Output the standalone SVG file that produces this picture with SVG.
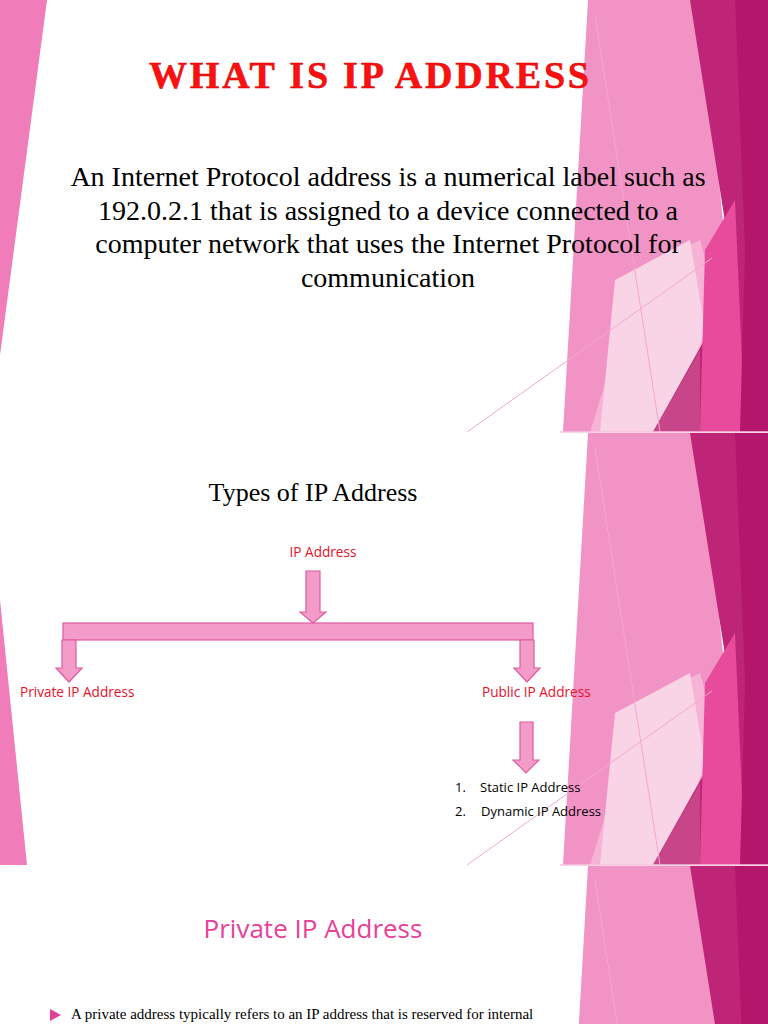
<svg xmlns="http://www.w3.org/2000/svg" width="768" height="1024" viewBox="0 0 768 1024">
<style>
.serif{font-family:"Liberation Serif",serif;fill:#000}
.sans{font-family:"Open Sans","Liberation Sans",sans-serif}
.red{fill:#e8102a;font-size:13.6px}
.arr{fill:#f39bc9;stroke:#de5c9f;stroke-width:1.2}
</style>
<defs>
<g id="deco">
<polygon points="588,0 700,0 745,432 563,432" fill="#f293c6"/>
<polygon points="640,270 700,240 725,330 700,432 590,432" fill="#f6b3d6"/>
<polygon points="615,280 690,240 705,330 670,432 600,432" fill="#f9d3e6"/>
<polygon points="690,0 768,0 768,432 653,432 735,285" fill="#bf2577"/>
<polygon points="705,250 735,200 745,432 700,432" fill="#e84a9c"/>
<polygon points="735,0 768,0 768,432 740,432 745,250" fill="#b4166c"/>
<polygon points="653,432 700,350 700,432" fill="#c9458a"/>
<line x1="595" y1="15" x2="660" y2="432" stroke="#f4a7cc" stroke-width="1"/>
<line x1="467" y1="432" x2="712" y2="258" stroke="#f4a7cc" stroke-width="1"/>
<line x1="560" y1="432" x2="768" y2="432" stroke="#f6c5de" stroke-width="1.5"/>
</g>
</defs>
<rect width="768" height="1024" fill="#fff"/>
<g id="slide1">
<polygon points="0,0 47,0 0,355" fill="#f07cba"/>
<use href="#deco"/>
<text x="369" y="88" text-anchor="middle" font-family="Liberation Serif,serif" font-weight="bold" font-size="38" fill="#ff1010" stroke="#c00" stroke-width="0.5" textLength="440">WHAT IS IP ADDRESS</text>
<g class="serif" font-size="28" text-anchor="middle">
<text x="388" y="186">An Internet Protocol address is a numerical label such as</text>
<text x="388" y="220">192.0.2.1 that is assigned to a device connected to a</text>
<text x="388" y="253">computer network that uses the Internet Protocol for</text>
<text x="388" y="287">communication</text>
</g>
</g>
<g id="slide2">
<polygon points="0,600 27,865 0,865" fill="#f07cba"/>
<use href="#deco" y="433"/>
<text class="serif" x="313" y="501" font-size="26" text-anchor="middle">Types of IP Address</text>
<g id="n-ip"><text class="sans red" x="323" y="557" text-anchor="middle">IP Address</text></g>
<g id="connectors">
<polygon class="arr" points="306,571 320,571 320,612 326,612 313,623 300,612 306,612"/>
<rect class="arr" x="63" y="623" width="470" height="17"/>
<polygon class="arr" points="62,640 76,640 76,668 82,668 69,682 56,668 62,668"/>
<polygon class="arr" points="520,640 534,640 534,668 540,668 527,682 514,668 520,668"/>
<polygon class="arr" points="520,722 533,722 533,760 539,760 526,773 513,760 520,760"/>
</g>
<g id="n-private"><text class="sans red" x="20" y="697">Private IP Address</text></g>
<g id="n-public"><text class="sans red" x="482" y="697">Public IP Address</text></g>
<g id="n-list" class="sans" font-size="13" fill="#000">
<text x="455" y="792">1.<tspan x="480">Static IP Address</tspan></text>
<text x="455" y="816">2.<tspan x="481">Dynamic IP Address</tspan></text>
</g>
</g>
<g id="slide3">
<use href="#deco" y="866"/>
<text x="313" y="938" text-anchor="middle" font-family="Open Sans,Liberation Sans,sans-serif" font-size="26" fill="#e8419b">Private IP Address</text>
<polygon points="50,1009 61,1015 50,1021" fill="#e0409a"/>
<text class="serif" x="71" y="1019" font-size="15">A private address typically refers to an IP address that is reserved for internal</text>
</g>
</svg>
